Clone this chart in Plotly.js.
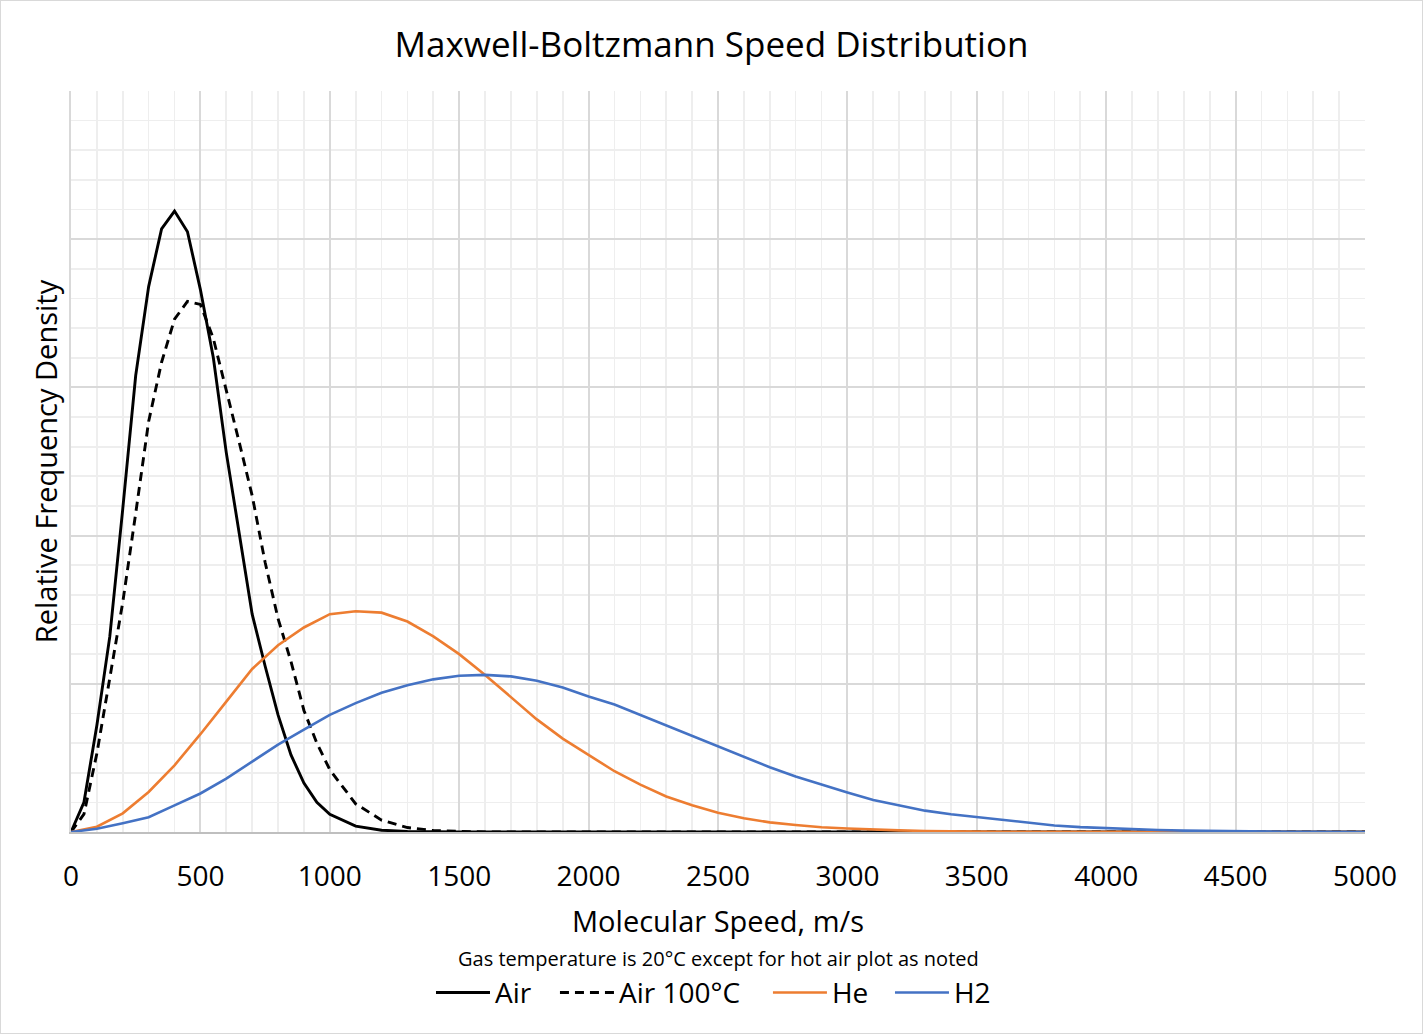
<!DOCTYPE html>
<html>
<head>
<meta charset="utf-8">
<script src="https://cdn.plot.ly/plotly-3.0.1.min.js"></script>
<style>
  html, body { margin: 0; padding: 0; background: #ffffff; }
  #chart { width: 1421px; height: 1032px; border: 1px solid #d9d9d9; }
</style>
</head>
<body>
<div id="chart"></div>
<script>
// Molecular speed (m/s) and relative frequency density
const airSpeed = [0,50,100,150,200,250,300,350,400,450,500,550,600,650,700,750,800,850,900,950,1000,1100,1200,1300,1400,1500,5000];
const airValue = [0,0.2,0.72,1.32,2.18,3.08,3.68,4.07,4.19,4.05,3.66,3.2,2.56,2.0,1.47,1.12,0.79,0.52,0.33,0.2,0.12,0.04,0.012,0.003,0.001,0,0];

const hotAirSpeed = [0,50,100,150,200,250,300,350,400,450,500,550,600,650,700,750,800,850,900,950,1000,1100,1200,1300,1400,1500,1600,5000];
const hotAirValue = [0,0.12,0.53,1.04,1.55,2.15,2.77,3.17,3.46,3.58,3.56,3.33,2.99,2.63,2.27,1.82,1.44,1.15,0.82,0.6,0.42,0.19,0.08,0.03,0.01,0.003,0,0];

const heSpeed = [0,100,200,300,400,500,600,700,800,900,1000,1100,1200,1300,1400,1500,1600,1700,1800,1900,2000,2100,2200,2300,2400,2500,2600,2700,2800,2900,3000,3100,3200,3300,3400,3500,3600,3700,3800,3900,5000];
const heValue = [0,0.036,0.126,0.27,0.45,0.66,0.88,1.1,1.26,1.38,1.47,1.49,1.48,1.42,1.32,1.2,1.06,0.91,0.76,0.63,0.52,0.41,0.32,0.24,0.18,0.13,0.093,0.065,0.047,0.032,0.024,0.016,0.011,0.007,0.004,0.003,0.002,0.001,0.001,0,0];

const h2Speed = [0,100,200,300,400,500,600,700,800,900,1000,1100,1200,1300,1400,1500,1600,1700,1800,1900,2000,2100,2200,2300,2400,2500,2600,2700,2800,2900,3000,3100,3200,3300,3400,3500,3600,3700,3800,3900,4000,4100,4200,4300,4400,4500,4600,4700,4800,4900,5000];
const h2Value = [0,0.022,0.059,0.1,0.18,0.26,0.36,0.475,0.59,0.69,0.79,0.87,0.94,0.99,1.03,1.054,1.06,1.05,1.02,0.975,0.914,0.86,0.79,0.72,0.645,0.576,0.505,0.437,0.374,0.318,0.266,0.216,0.178,0.144,0.12,0.1,0.081,0.06,0.044,0.033,0.025,0.018,0.013,0.009,0.006,0.004,0.003,0.002,0.001,0.001,0];

const seriesNames = ["Air", "Air 100°C", "He", "H2"];
const xTickVals = [0,500,1000,1500,2000,2500,3000,3500,4000,4500,5000];
const xTickText = ["0","500","1000","1500","2000","2500","3000","3500","4000","4500","5000"];

const FONT = "'Open Sans', sans-serif";

const traces = [
  { x: airSpeed, y: airValue, name: seriesNames[0], mode: "lines", legend: "legend",
    line: { color: "#000000", width: 2.9 } },
  { x: hotAirSpeed, y: hotAirValue, name: seriesNames[1], mode: "lines", legend: "legend2",
    line: { color: "#000000", width: 2.9, dash: "9px,6px" } },
  { x: heSpeed, y: heValue, name: seriesNames[2], mode: "lines", legend: "legend3",
    line: { color: "#ED7D31", width: 2.6 } },
  { x: h2Speed, y: h2Value, name: seriesNames[3], mode: "lines", legend: "legend4",
    line: { color: "#4472C4", width: 2.6 } }
];

function legendAt(x) {
  return { orientation: "h", x: x, xanchor: "left", y: -0.217, yanchor: "middle",
           font: { family: FONT, size: 28, color: "#000000" }, itemwidth: 54,
           bgcolor: "rgba(0,0,0,0)", borderwidth: 0 };
}

const layout = {
  width: 1421, height: 1032,
  margin: { l: 70, r: 57, t: 90, b: 201, autoexpand: false },
  paper_bgcolor: "#ffffff", plot_bgcolor: "#ffffff",
  font: { family: FONT, color: "#000000", size: 27 },
  title: { text: "Maxwell-Boltzmann Speed Distribution", font: { family: FONT, size: 35, color: "#000000" },
           x: 0.5, xanchor: "center", y: 0.958, yanchor: "middle", yref: "container" },
  showlegend: true,
  legend: legendAt(0.2782),
  legend2: legendAt(0.3740),
  legend3: legendAt(0.5386),
  legend4: legendAt(0.6329),
  xaxis: {
    range: [0, 5000], tickvals: xTickVals, ticktext: xTickText,
    showgrid: true, gridcolor: "#d9d9d9", gridwidth: 2,
    minor: { dtick: 100, showgrid: true, gridcolor: "#eeeeee", gridwidth: 1.7 },
    showline: true, linecolor: "#bfbfbf", linewidth: 2,
    zeroline: false, ticks: "", ticklabelstandoff: 18,
    tickfont: { family: FONT, size: 28 },
    title: { text: "Molecular Speed, m/s", font: { family: FONT, size: 29 }, standoff: 19 },
    automargin: false
  },
  yaxis: {
    range: [0, 5], dtick: 1, showticklabels: false,
    showgrid: true, gridcolor: "#d9d9d9", gridwidth: 2,
    minor: { dtick: 0.2, showgrid: true, gridcolor: "#eeeeee", gridwidth: 1.7 },
    showline: true, linecolor: "#d9d9d9", linewidth: 2, mirror: false,
    zeroline: false, ticks: "",
    title: { text: "Relative Frequency Density", font: { family: FONT, size: 29 }, standoff: 3 },
    automargin: false
  },
  annotations: [
    { text: "Gas temperature is 20°C except for hot air plot as noted", xref: "paper", yref: "paper",
      x: 0.5, y: -0.171, xanchor: "center", yanchor: "middle", showarrow: false,
      font: { family: FONT, size: 20, color: "#000000" } }
  ]
};

Plotly.newPlot("chart", traces, layout, { displayModeBar: false, staticPlot: true });
</script>
</body>
</html>
